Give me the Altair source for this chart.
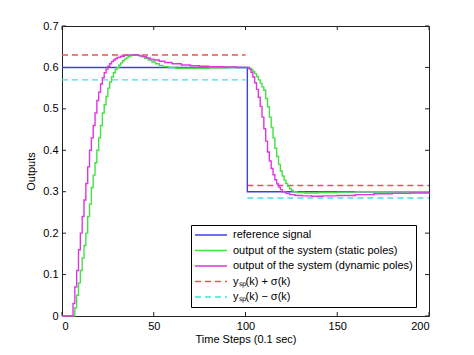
import altair as alt
import pandas as pd

# ---------------- data ----------------
series_names = [
    "reference signal",
    "output of the system (static poles)",
    "output of the system (dynamic poles)",
    "y\u209b\u209a(k) + \u03c3(k)",
    "y\u209b\u209a(k) \u2212 \u03c3(k)",
]
series_colors = ["#4040e0", "#44e044", "#e035e0", "#f05050", "#44e0e0"]
series_dash = [[1, 0], [1, 0], [1, 0], [6, 4], [6, 4]]

ref_k = [0, 101, 200]
ref_v = [0.6, 0.3, 0.3]

# band segments: start k, end k, value
upper_start = [0, 101]
upper_end = [100, 200]
upper_v = [0.63, 0.315]
lower_start = [0, 101]
lower_end = [100, 200]
lower_v = [0.57, 0.285]

green_k = [0, 7, 8, 9, 10, 11, 12, 13, 14, 15, 16, 17, 18, 19, 20, 21, 22, 23, 24, 25,
           26, 27, 28, 29, 30, 31, 32, 33, 34, 35, 36, 37, 38, 39, 41, 43, 45, 47, 49, 51,
           53, 55, 58, 62, 70, 80, 90, 102, 103, 104, 105, 106, 107, 108, 109, 110, 111,
           112, 113, 114, 115, 116, 117, 118, 119, 120, 121, 122, 123, 124, 125, 126, 128,
           132, 140, 150, 160, 200]
green_v = [0, 0.02, 0.05, 0.08, 0.11, 0.14, 0.17, 0.20, 0.24, 0.27, 0.31, 0.34, 0.37, 0.40,
           0.43, 0.46, 0.49, 0.51, 0.53, 0.55, 0.565, 0.577, 0.587, 0.595, 0.60, 0.606,
           0.611, 0.616, 0.62, 0.623, 0.626, 0.628, 0.629, 0.63, 0.629, 0.626, 0.622,
           0.618, 0.613, 0.609, 0.605, 0.602, 0.6, 0.598, 0.598, 0.599, 0.6, 0.598, 0.595,
           0.59, 0.585, 0.578, 0.57, 0.562, 0.553, 0.545, 0.525, 0.505, 0.48, 0.455, 0.43,
           0.405, 0.385, 0.366, 0.35, 0.338, 0.328, 0.32, 0.313, 0.307, 0.303, 0.3, 0.298,
           0.297, 0.298, 0.299, 0.3, 0.3]

magenta_k = [0, 6, 7, 8, 9, 10, 11, 12, 13, 14, 15, 16, 17, 18, 19, 20, 21, 22, 23, 24, 25,
             26, 27, 28, 29, 30, 32, 34, 36, 40, 42, 44, 46, 48, 50, 53, 56, 60, 65, 70, 75,
             80, 88, 95, 102, 103, 104, 105, 106, 107, 108, 109, 110, 111, 112, 113, 114,
             115, 116, 117, 118, 119, 120, 122, 124, 127, 131, 136, 142, 150, 160, 170, 180,
             190, 200]
magenta_v = [0, 0.03, 0.07, 0.11, 0.16, 0.20, 0.24, 0.28, 0.32, 0.36, 0.40, 0.43, 0.46, 0.49,
             0.52, 0.54, 0.56, 0.575, 0.587, 0.596, 0.603, 0.609, 0.614, 0.618, 0.621, 0.624,
             0.627, 0.629, 0.63, 0.63, 0.628, 0.626, 0.623, 0.62, 0.618, 0.615, 0.612, 0.609,
             0.606, 0.604, 0.603, 0.602, 0.601, 0.6, 0.596, 0.588, 0.577, 0.563, 0.547,
             0.528, 0.506, 0.48, 0.452, 0.422, 0.396, 0.374, 0.356, 0.341, 0.329, 0.319,
             0.311, 0.305, 0.3, 0.296, 0.293, 0.291, 0.29, 0.289, 0.29, 0.291, 0.293, 0.295,
             0.296, 0.297, 0.298]

x_ticks = [0, 50, 100, 150, 200]
y_ticks = [0, 0.1, 0.2, 0.3, 0.4, 0.5, 0.6, 0.7]

# ---------------- tables ----------------
line_rows = []
for name, ks, vs in [(series_names[0], ref_k, ref_v),
                     (series_names[1], green_k, green_v),
                     (series_names[2], magenta_k, magenta_v)]:
    for k, v in zip(ks, vs):
        line_rows.append({"k": k, "v": v, "series": name})
df_lines = pd.DataFrame(line_rows)

band_rows = []
for name, ss, es, vs in [(series_names[3], upper_start, upper_end, upper_v),
                         (series_names[4], lower_start, lower_end, lower_v)]:
    for s, e, v in zip(ss, es, vs):
        band_rows.append({"k": s, "k2": e, "v": v, "series": name})
df_bands = pd.DataFrame(band_rows)

W, H = 367, 290
FONT = "Liberation Sans"
SW = 1.4

xscale = alt.Scale(domain=[0, 200], nice=False)
yscale = alt.Scale(domain=[0, 0.7], nice=False)

color_enc = alt.Color(
    "series:N",
    scale=alt.Scale(domain=series_names, range=series_colors),
    legend=alt.Legend(title=None, orient="none", legendX=129, legendY=199,
                      symbolType="stroke", symbolSize=1024,
                      symbolStrokeWidth=SW, labelFontSize=11,
                      labelFont=FONT, labelColor="black",
                      strokeColor="black", fillColor="white",
                      padding=3, rowPadding=1.5, clipHeight=14,
                      labelOffset=5, labelLimit=300))
dash_enc = alt.StrokeDash("series:N",
                          scale=alt.Scale(domain=series_names, range=series_dash))

x_enc = alt.X("k:Q", scale=xscale, title="Time Steps (0.1 sec)",
              axis=alt.Axis(values=x_ticks, labelPadding=4, titlePadding=2))
y_enc = alt.Y("v:Q", scale=yscale, title="Outputs",
              axis=alt.Axis(values=y_ticks, labelPadding=4, titlePadding=6,
                            labelExpr="datum.value == 0 ? '0' : format(datum.value, '.1f')"))

bands = alt.Chart(df_bands).mark_rule(strokeWidth=SW).encode(
    x=x_enc, x2="k2:Q", y=y_enc, color=color_enc, strokeDash=dash_enc)

lines = alt.Chart(df_lines).mark_line(interpolate="step-after", strokeWidth=SW).encode(
    x=x_enc, y=y_enc, color=color_enc, strokeDash=dash_enc)

xt = pd.DataFrame({"k": x_ticks})
yt = pd.DataFrame({"v": y_ticks})
tick_color = "#222222"
bt = alt.Chart(xt).mark_rule(color=tick_color).encode(
    x=alt.X("k:Q", scale=xscale), y=alt.value(H), y2=alt.value(H - 4))
tt = alt.Chart(xt).mark_rule(color=tick_color).encode(
    x=alt.X("k:Q", scale=xscale), y=alt.value(0), y2=alt.value(4))
lt = alt.Chart(yt).mark_rule(color=tick_color).encode(
    y=alt.Y("v:Q", scale=yscale), x=alt.value(0), x2=alt.value(4))
rt = alt.Chart(yt).mark_rule(color=tick_color).encode(
    y=alt.Y("v:Q", scale=yscale), x=alt.value(W), x2=alt.value(W - 4))

chart = alt.layer(bt, tt, lt, rt, bands, lines).properties(
    width=W, height=H,
    autosize=alt.AutoSizeParams(type="none"),
    padding={"left": 54, "top": 18, "right": 37, "bottom": 31},
).configure_view(
    stroke="#222222", strokeWidth=1
).configure_axis(
    grid=False, ticks=False, domain=False,
    labelFont=FONT, titleFont=FONT, labelFontSize=11, titleFontSize=11,
    titleFontWeight="normal", labelColor="black", titleColor="black",
)

chart.save("out.html", embed_options={"renderer": "svg", "actions": False})
